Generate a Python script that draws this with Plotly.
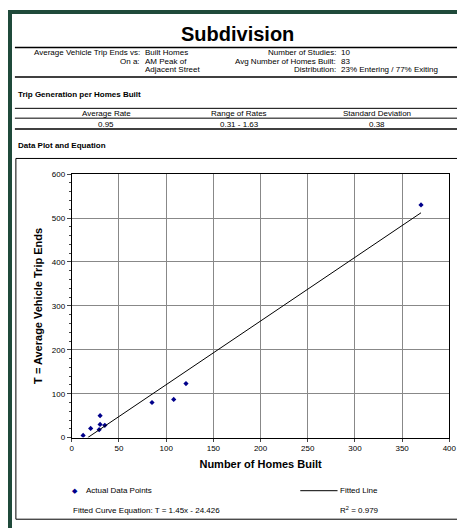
import plotly.graph_objects as go

W, H = 465, 528

# data
homes = [12, 20, 29, 30, 30, 35, 85, 108, 121, 370]
trips = [5, 21, 18, 30, 50, 28, 80, 87, 123, 530]
fit_x = [17, 370]
slope, intercept = 1.45, -24.426
fit_y = [slope * v + intercept for v in fit_x]

def px(x):
    return x / W

def py(y):
    return 1 - y / H

fig = go.Figure()
fig.add_trace(go.Scatter(x=homes, y=trips, mode="markers",
                         marker=dict(color="#00008B", size=4, symbol="diamond"), showlegend=False))
fig.add_trace(go.Scatter(x=fit_x, y=fit_y, mode="lines",
                         line=dict(color="black", width=1), showlegend=False))

font = "Liberation Sans, Arial"
fig.update_layout(
    width=W, height=H, margin=dict(l=0, r=0, t=0, b=0),
    paper_bgcolor="white", plot_bgcolor="white",
    font=dict(family=font, size=8, color="black"),
    xaxis=dict(domain=[px(63), px(448)], range=[0, 400], dtick=50,
               showgrid=True, gridcolor="#888", gridwidth=1,
               showline=True, linecolor="black", mirror=True,
               ticks="outside", ticklen=3, zeroline=False,
               title=dict(text="<b>Number of Homes Built</b>", font=dict(size=11), standoff=8)),
    yaxis=dict(domain=[py(433), py(165)], range=[0, 600], dtick=100,
               showgrid=True, gridcolor="#888", gridwidth=1,
               showline=True, linecolor="black", mirror=True,
               ticks="outside", ticklen=4, zeroline=False,
               minor=dict(dtick=20, ticks="outside", ticklen=2, showgrid=False),
               title=dict(text="<b>T = Average Vehicle Trip Ends</b>", font=dict(size=11), standoff=6)),
)

shapes = []
# page border
shapes.append(dict(type="rect", xref="paper", yref="paper", x0=0, x1=1, y0=0, y1=1,
                   line=dict(color="#1f4a3a", width=4)))
for y, w in [(36, 1.5), (66, 1.5), (98, 1), (108, 1), (119, 1.5)]:
    shapes.append(dict(type="line", xref="paper", yref="paper", x0=px(5), x1=px(460),
                       y0=py(y), y1=py(y), line=dict(color="black", width=w)))
shapes.append(dict(type="rect", xref="paper", yref="paper", x0=px(6), x1=px(460),
                   y0=py(516), y1=py(149), line=dict(color="black", width=1)))
fig.update_layout(shapes=shapes)

def note(x, y, text, anchor="left", size=8, color="black"):
    fig.add_annotation(x=px(x), y=py(y), xref="paper", yref="paper", text=text,
                       showarrow=False, xanchor=anchor, yanchor="middle",
                       font=dict(size=size, family=font, color=color))

note(232, 22, "<b>Subdivision</b>", "center", 20)
note(135, 41, "Average Vehicle Trip Ends vs:", "right")
note(135, 50, "On a:", "right")
note(136, 41, "Built Homes")
note(136, 50, "AM Peak of")
note(136, 59, "Adjacent Street")
note(334, 41, "Number of Studies:", "right")
note(334, 50, "Avg Number of Homes Built:", "right")
note(334, 59, "Distribution:", "right")
note(336, 41, "10")
note(336, 50, "83")
note(336, 59, "23% Entering / 77% Exiting")
note(6, 84, "<b>Trip Generation per Homes Built</b>")
note(98, 103, "Average Rate", "center")
note(234, 103, "Range of Rates", "center")
note(374, 103, "Standard Deviation", "center")
note(98, 114, "0.95", "center")
note(234, 114, "0.31 - 1.63", "center")
note(374, 114, "0.38", "center")
note(6, 136, "<b>Data Plot and Equation</b>")
note(75, 487, "Actual Data Points")
note(66, 487, "\u25c6", "center", 7, "#00008B")
note(334, 487, "Fitted Line")
fig.add_shape(type="line", xref="paper", yref="paper", x0=px(296), x1=px(334),
              y0=py(487), y1=py(487), line=dict(color="black", width=1))
note(62, 507, "Fitted Curve Equation: T = 1.45x - 24.426")
note(334, 507, "R<sup>2</sup> = 0.979")

fig.write_html("out.html")
